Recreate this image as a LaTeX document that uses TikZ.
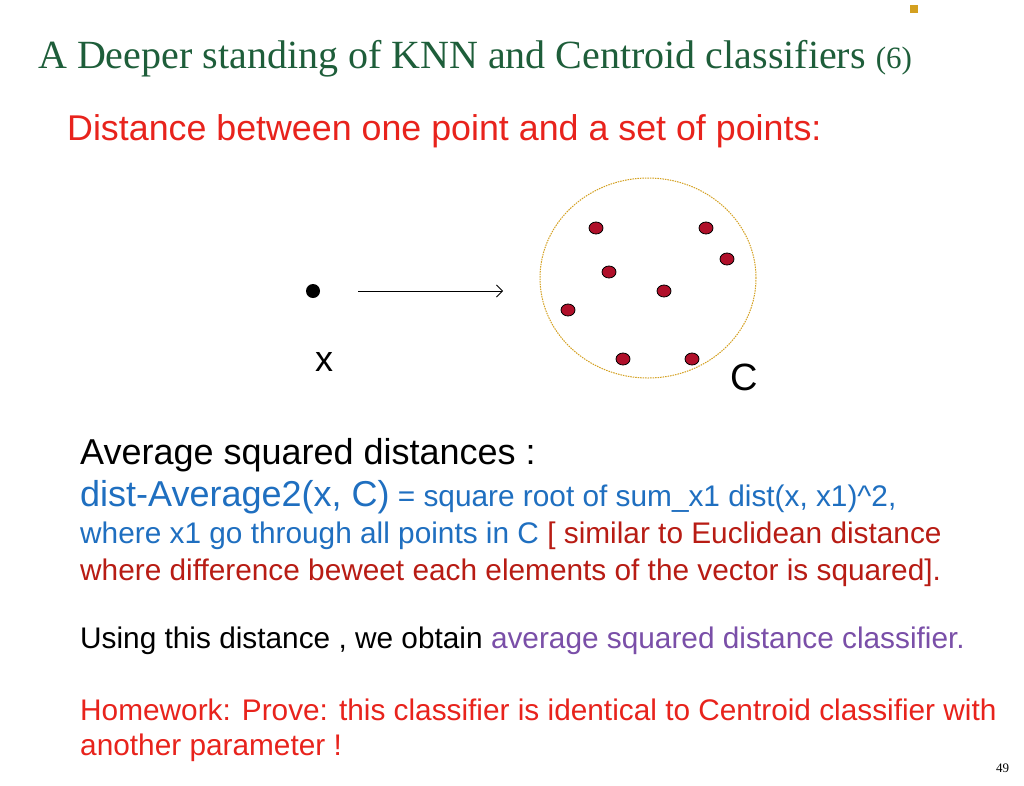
\documentclass[tikz,border=0pt]{standalone}
\usepackage{fontspec}
\setmainfont{Liberation Sans}
\newfontfamily\serifff{Liberation Serif}
\usetikzlibrary{arrows.meta,shapes.geometric}
\definecolor{ttl}{HTML}{1E5E3A}
\definecolor{rd}{HTML}{E8231C}
\definecolor{bl}{HTML}{1F6FC0}
\definecolor{dr}{HTML}{B81C14}
\definecolor{pu}{HTML}{7A4FA8}
\definecolor{dotc}{HTML}{B0102A}
\definecolor{gold}{HTML}{D4A020}
\begin{document}
\begin{tikzpicture}[x=1pt,y=-1pt,
  txt/.style={anchor=base west,inner sep=0pt},
  pt/.style={ellipse,draw=black,line width=0.8pt,fill=dotc,minimum width=14pt,minimum height=12pt,inner sep=0pt}]
\useasboundingbox (0,0) rectangle (1024,785);
\fill[white] (0,0) rectangle (1024,785);
\fill[gold] (910,5) rectangle (918,13);
\node[txt,text=ttl,font=\serifff\fontsize{40}{44}\selectfont] (title) at (38,68) {A Deeper standing of KNN and Centroid classifiers {\fontsize{31}{34}\selectfont(6)}};
\node[txt,text=rd,font=\fontsize{35.8}{40}\selectfont] (sub) at (67,140) {Distance between one point and a set of points:};
\fill (313,291) circle (7);
\node[inner sep=0pt] (xd) at (313,291) {};
\coordinate (a1) at (358,291); \coordinate (a2) at (503,291);
\draw[-{Straight Barb[length=6pt]},line width=0.8pt] (a1) -- (a2);
\node[txt,font=\fontsize{36}{40}\selectfont] (xl) at (315,371) {x};
\node[ellipse,draw=gold,dash pattern=on 1.5pt off 1pt,line width=1pt,minimum width=216pt,minimum height=200pt] (cset) at (648,278) {};
\foreach \p/\q [count=\i] in {596/228,706/228,727/259,609/272,664/291,568/310,623/359,692/359}
  \node[pt] (d\i) at (\p,\q) {};
\node[txt,font=\fontsize{38}{42}\selectfont] (cl) at (730,390) {C};
\node[txt,font=\fontsize{36}{40}\selectfont] (l1) at (80,464) {Average squared distances :};
\node[txt,text=bl,font=\fontsize{29.8}{34}\selectfont] (l2) at (80,506) {{\fontsize{36}{40}\selectfont dist-Average2(x, C)} = square root of sum\_x1 dist(x, x1)\^{}2,};
\node[txt,font=\fontsize{29.8}{34}\selectfont] (l3) at (80,543) {\textcolor{bl}{where x1 go through all points in C} \textcolor{dr}{[ similar to Euclidean distance}};
\node[txt,text=dr,font=\fontsize{29.8}{34}\selectfont] (l4) at (80,580) {where difference beweet each elements of the vector is squared].};
\node[txt,font=\fontsize{29.8}{34}\selectfont] (l5) at (80,648) {Using this distance , we obtain \textcolor{pu}{average squared distance classifier.}};
\node[txt,text=rd,font=\fontsize{29.8}{34}\selectfont] (l6) at (80,720) {Homework: Prove: this classifier is identical to Centroid classifier with};
\node[txt,text=rd,font=\fontsize{29.8}{34}\selectfont] (l7) at (80,755) {another parameter !};
\node[txt,font=\serifff\fontsize{13}{15}\selectfont] (pg) at (996,772) {49};
\end{tikzpicture}
\end{document}
